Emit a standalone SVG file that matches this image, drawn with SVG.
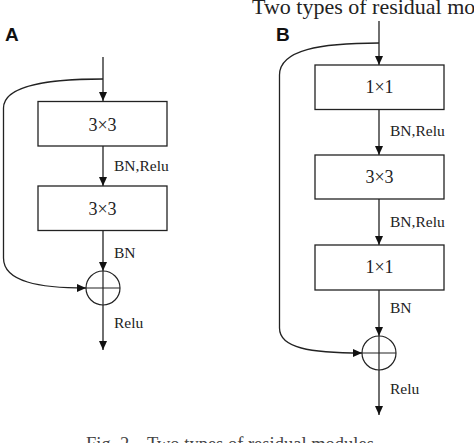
<svg xmlns="http://www.w3.org/2000/svg" width="474" height="443" viewBox="0 0 474 443">
<style>
.box{fill:#fff;stroke:#222;stroke-width:1.3}
.sum{fill:none;stroke:#222;stroke-width:1.2}
.ln{fill:none;stroke:#222;stroke-width:1.3}
.bt{font-family:"Liberation Serif","Times New Roman",serif;font-size:18px;fill:#222;text-anchor:middle}
.lb{font-family:"Liberation Serif","Times New Roman",serif;font-size:15.5px;fill:#222}
.pl{font-family:"Liberation Sans",Arial,sans-serif;font-size:19px;font-weight:bold;fill:#111}
.cap{font-family:"Liberation Serif","Times New Roman",serif;font-size:22px;fill:#222}
.cap2{font-family:"Liberation Serif","Times New Roman",serif;font-size:18.5px;fill:#444}
</style>
<defs>
<marker id="ah" markerUnits="userSpaceOnUse" markerWidth="9" markerHeight="8" refX="9" refY="4" orient="auto">
<path d="M0,0 L9,4 L0,8 z" fill="#111"/>
</marker>
</defs>
<rect width="474" height="443" fill="#fff"/>
<text class="cap" x="252" y="14">Two types of residual mo</text>
<text class="pl" x="5" y="41">A</text>
<text class="pl" x="276" y="41">B</text>

<g id="connectors">
<!-- Panel A -->
<path class="ln" d="M103,57 L103,101" marker-end="url(#ah)"/>
<path class="ln" d="M103,146 L103,186" marker-end="url(#ah)"/>
<path class="ln" d="M103,231 L103,271" marker-end="url(#ah)"/>
<path class="ln" d="M103,305 L103,350" marker-end="url(#ah)"/>
<path class="ln" d="M103,79 C50,79 3.5,85 3.5,108 L3.5,258 C3.5,282 40,288 86,288" marker-end="url(#ah)"/>
<text class="lb" x="114" y="171">BN,Relu</text>
<text class="lb" x="114" y="258">BN</text>
<text class="lb" x="114" y="328">Relu</text>
<!-- Panel B -->
<path class="ln" d="M379,21 L379,65" marker-end="url(#ah)"/>
<path class="ln" d="M379,109 L379,155" marker-end="url(#ah)"/>
<path class="ln" d="M379,199 L379,245" marker-end="url(#ah)"/>
<path class="ln" d="M379,290 L379,336" marker-end="url(#ah)"/>
<path class="ln" d="M379,370 L379,415" marker-end="url(#ah)"/>
<path class="ln" d="M379,43 C320,43 279.5,50 279.5,75 L279.5,328 C279.5,348 310,353 362,353" marker-end="url(#ah)"/>
<text class="lb" x="390" y="135.5">BN,Relu</text>
<text class="lb" x="390" y="227">BN,Relu</text>
<text class="lb" x="390" y="313">BN</text>
<text class="lb" x="390" y="393.5">Relu</text>
</g>

<g id="A_conv1">
<rect class="box" x="38" y="101.5" width="129" height="44.5"/>
<text class="bt" x="102.5" y="130.5">3×3</text>
</g>
<g id="A_conv2">
<rect class="box" x="38" y="186" width="129" height="44.5"/>
<text class="bt" x="102.5" y="215">3×3</text>
</g>
<g id="A_add">
<circle class="sum" cx="103" cy="288" r="17"/>
<path class="sum" d="M86,288 L120,288 M103,271 L103,305"/>
</g>

<g id="B_conv1">
<rect class="box" x="315" y="65" width="129" height="44.5"/>
<text class="bt" x="379.5" y="93">1×1</text>
</g>
<g id="B_conv2">
<rect class="box" x="315" y="155" width="129" height="44"/>
<text class="bt" x="379.5" y="183">3×3</text>
</g>
<g id="B_conv3">
<rect class="box" x="315" y="245" width="129" height="45"/>
<text class="bt" x="379.5" y="273">1×1</text>
</g>
<g id="B_add">
<circle class="sum" cx="379" cy="353" r="17"/>
<path class="sum" d="M362,353 L396,353 M379,336 L379,370"/>
</g>

<text class="cap2" x="86" y="450">Fig. 2</text>
<text class="cap2" x="147" y="450">Two types of residual modules</text>
</svg>
